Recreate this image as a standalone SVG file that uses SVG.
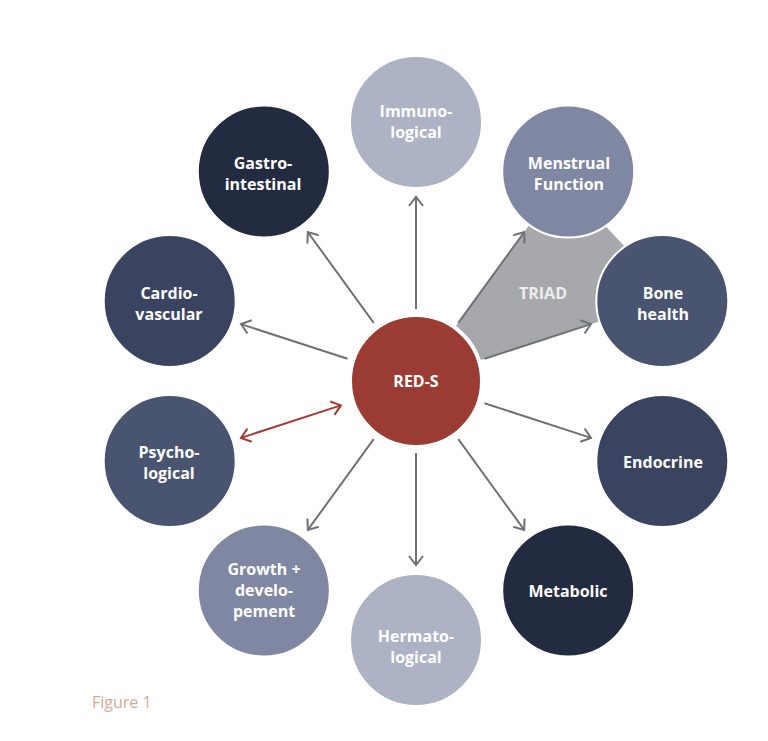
<svg xmlns="http://www.w3.org/2000/svg" width="768" height="741" viewBox="0 0 768 741">
<style>
.node{stroke:#ffffff;stroke-width:2}
.lbl{font-family:"Open Sans","Noto Sans","Liberation Sans",sans-serif;font-weight:bold;font-size:16px;fill:#ffffff;text-anchor:middle}
.arr{stroke:#707174;stroke-width:2;fill:none;marker-end:url(#ah)}
.red{stroke:#a83a32;stroke-width:2;fill:none;marker-end:url(#ahr);marker-start:url(#ahr)}
</style>
<defs>
<marker id="ah" markerUnits="userSpaceOnUse" markerWidth="24" markerHeight="24" viewBox="-12 -12 24 24" refX="0" refY="0" orient="auto">
<path d="M-9,-7 L0,0 L-9,7" fill="none" stroke="#707174" stroke-width="2"/>
</marker>
<marker id="ahr" markerUnits="userSpaceOnUse" markerWidth="24" markerHeight="24" viewBox="-12 -12 24 24" refX="0" refY="0" orient="auto-start-reverse">
<path d="M-9,-7 L0,0 L-9,7" fill="none" stroke="#a83a32" stroke-width="2"/>
</marker>
</defs>
<rect width="768" height="741" fill="#ffffff"/>
<g id="triad">
<polygon points="416,381 458.3,322.8 542.4,207 597,217 640,263 620.5,314.6 484.5,358.8" fill="#a7a8ab"/>
</g>
<g id="connectors">
<line class="arr" x1="416" y1="309" x2="416" y2="197"/>
<line class="arr" x1="458.3" y1="322.8" x2="524.2" y2="232.1"/>
<line class="arr" x1="484.5" y1="358.8" x2="591" y2="324.1"/>
<line class="arr" x1="484.5" y1="403.2" x2="591" y2="437.9"/>
<line class="arr" x1="458.3" y1="439.2" x2="524.2" y2="529.9"/>
<line class="arr" x1="416" y1="453" x2="416" y2="565"/>
<line class="arr" x1="373.7" y1="439.2" x2="307.8" y2="529.9"/>
<line class="red" x1="340.9" y1="405.4" x2="241" y2="437.9"/>
<line class="arr" x1="347.5" y1="358.8" x2="241" y2="324.1"/>
<line class="arr" x1="373.7" y1="322.8" x2="307.8" y2="232.1"/>
</g>
<text x="543" y="299" font-family="'Open Sans','Noto Sans','Liberation Sans',sans-serif" font-weight="bold" font-size="16" fill="#eeeeee" text-anchor="middle">TRIAD</text>
<g id="reds">
<circle cx="416" cy="381" r="66" fill="#9a3c33" stroke="#ffffff" stroke-width="4"/>
<text class="lbl" x="416" y="387">RED-S</text>
</g>
<g id="immuno">
<circle class="node" cx="416" cy="122" r="66" fill="#adb2c4"/>
<text class="lbl" x="416" y="117">Immuno-</text>
<text class="lbl" x="416" y="138">logical</text>
</g>
<g id="menstrual">
<circle class="node" cx="568.2" cy="171.5" r="66" fill="#7f87a2"/>
<text class="lbl" x="569" y="169">Menstrual</text>
<text class="lbl" x="569" y="190">Function</text>
</g>
<g id="bone">
<circle class="node" cx="662.3" cy="301" r="66" fill="#485470"/>
<text class="lbl" x="663" y="299">Bone</text>
<text class="lbl" x="663" y="320">health</text>
</g>
<g id="endocrine">
<circle class="node" cx="662.3" cy="461" r="66" fill="#3a4460"/>
<text class="lbl" x="663" y="468">Endocrine</text>
</g>
<g id="metabolic">
<circle class="node" cx="568.2" cy="590.5" r="66" fill="#232b40"/>
<text class="lbl" x="568" y="597">Metabolic</text>
</g>
<g id="hermato">
<circle class="node" cx="416" cy="640" r="66" fill="#adb2c4"/>
<text class="lbl" x="416" y="642">Hermato-</text>
<text class="lbl" x="416" y="663">logical</text>
</g>
<g id="growth">
<circle class="node" cx="263.8" cy="590.5" r="66" fill="#7f87a2"/>
<text class="lbl" x="264" y="575">Growth +</text>
<text class="lbl" x="264" y="596">develo-</text>
<text class="lbl" x="264" y="617">pement</text>
</g>
<g id="psycho">
<circle class="node" cx="169.7" cy="461" r="66" fill="#485470"/>
<text class="lbl" x="169" y="458">Psycho-</text>
<text class="lbl" x="169" y="479">logical</text>
</g>
<g id="cardio">
<circle class="node" cx="169.7" cy="301" r="66" fill="#3a4460"/>
<text class="lbl" x="169" y="299">Cardio-</text>
<text class="lbl" x="169" y="320">vascular</text>
</g>
<g id="gastro">
<circle class="node" cx="263.8" cy="171.5" r="66" fill="#232b40"/>
<text class="lbl" x="263" y="169">Gastro-</text>
<text class="lbl" x="263" y="190">intestinal</text>
</g>
<text x="92" y="708" font-family="'Open Sans','Noto Sans','Liberation Sans',sans-serif" font-size="16" fill="#d8a994">Figure 1</text>
</svg>
